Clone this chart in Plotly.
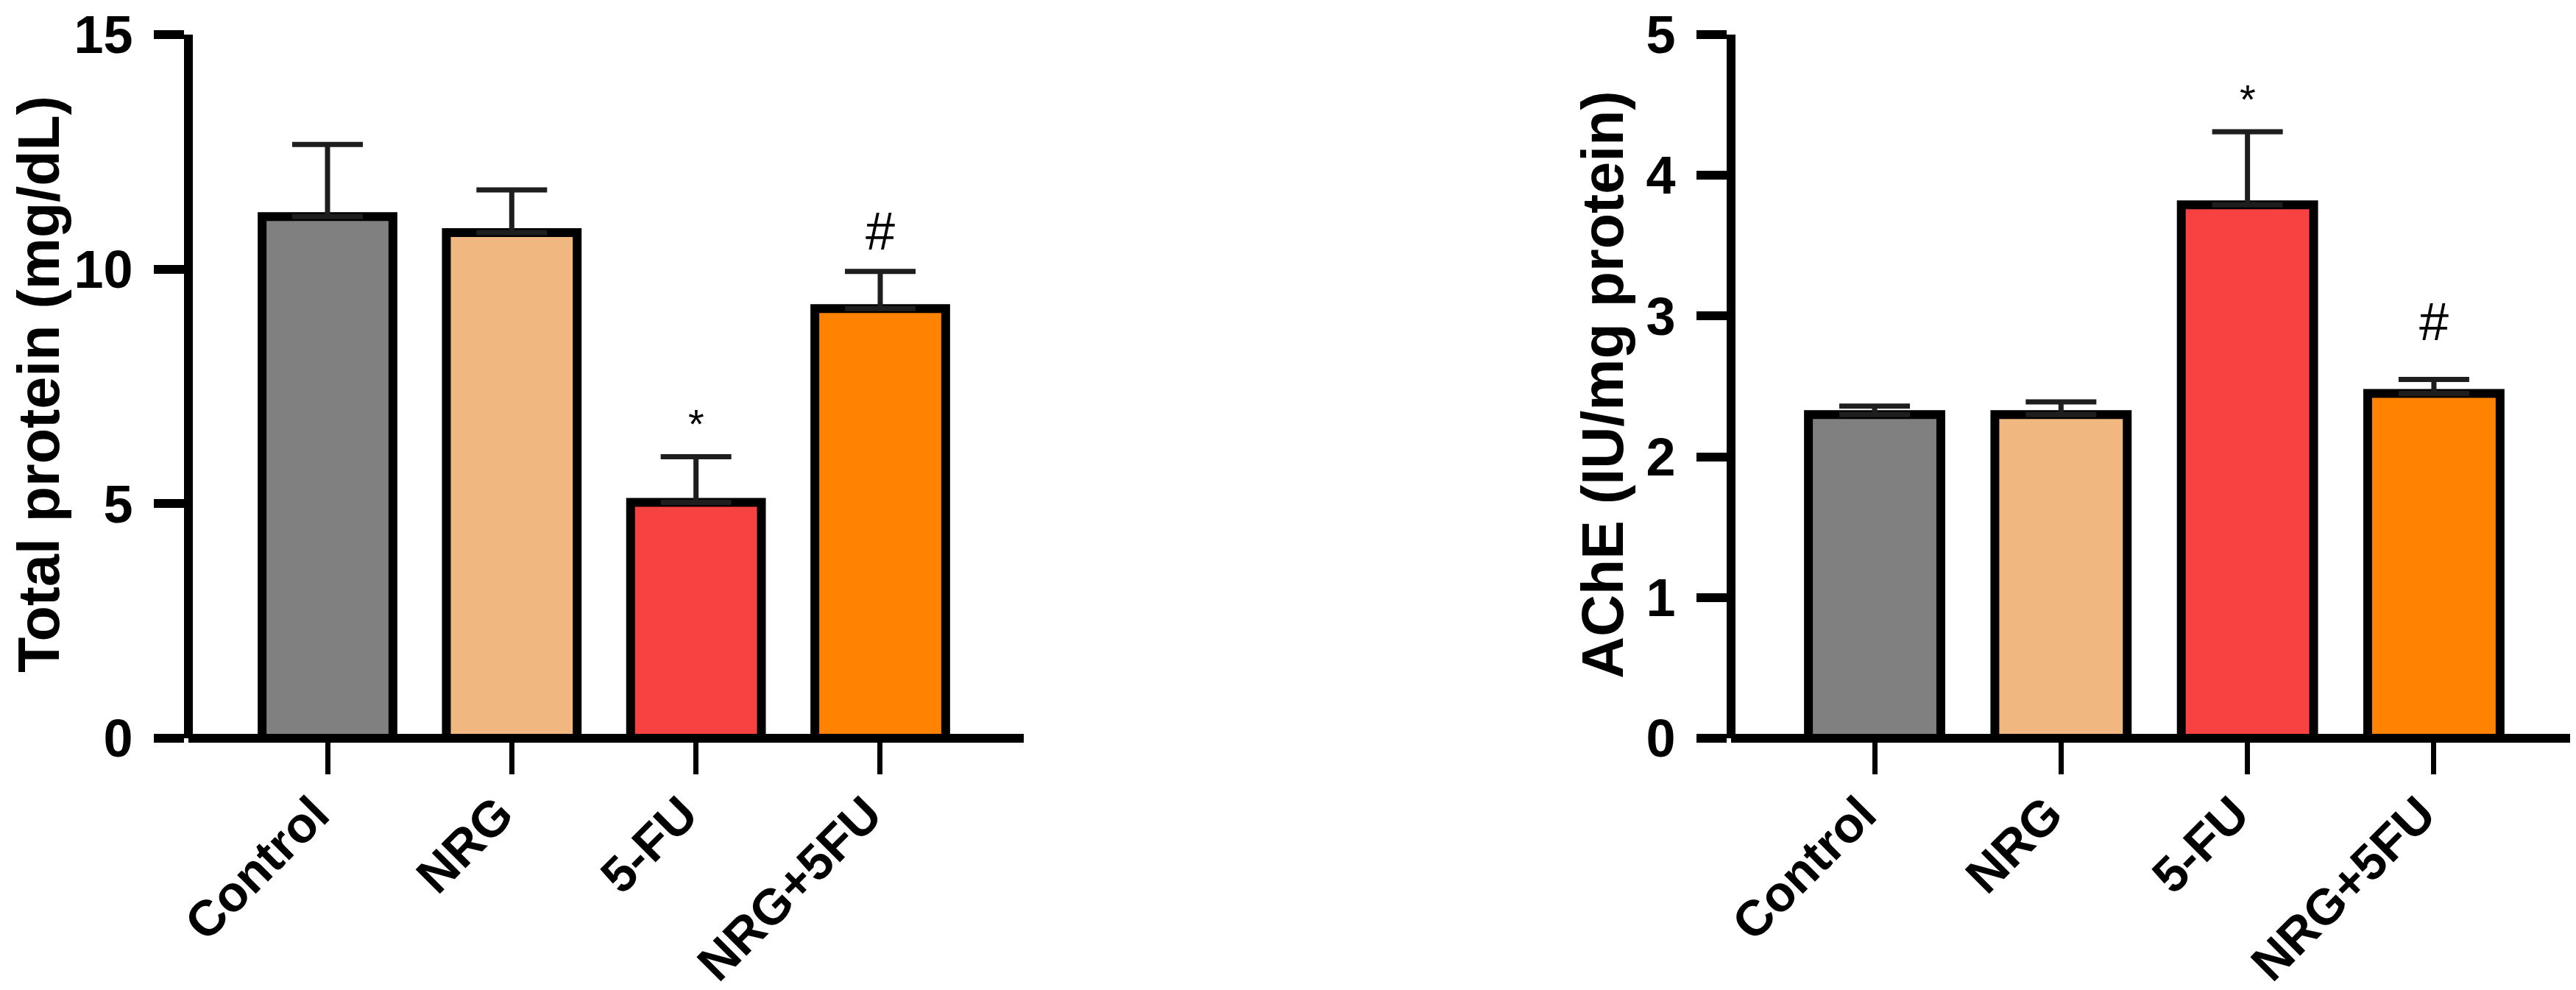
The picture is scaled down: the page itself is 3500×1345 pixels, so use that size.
import plotly.graph_objects as go

groups = ["Control", "NRG", "5-FU", "NRG+5FU"]
bar_colors = ["#808080", "#F0B880", "#F84242", "#FF8200"]

protein_mean = [11.12, 10.78, 5.03, 9.16]
protein_sem = [1.54, 0.91, 0.97, 0.79]
protein_marks = ["", "", "*", "#"]

ache_mean = [2.30, 2.30, 3.79, 2.45]
ache_sem = [0.06, 0.09, 0.52, 0.10]
ache_marks = ["", "", "*", "#"]

W, H = 3500, 1345
FONT = "Liberation Sans, Arial, sans-serif"
Y_BOTTOM = 1 - 995 / H
Y_TOP = 1 - 39 / H


def bar_trace(means, sems, xa, ya):
    return go.Bar(
        x=groups, y=means, xaxis=xa, yaxis=ya, width=0.71,
        marker={"color": bar_colors, "line": {"color": "black", "width": 12}},
        error_y={"type": "data", "array": sems, "arrayminus": [0] * len(sems), "symmetric": False,
                 "thickness": 7, "width": 48, "color": "#1e1e1e"},
        showlegend=False, hoverinfo="x+y",
    )


def x_axis(domain, rng):
    return {
        "domain": domain, "anchor": "free", "position": Y_BOTTOM, "range": rng, "automargin": False,
        "showline": True, "linewidth": 12, "linecolor": "black",
        "ticks": "outside", "ticklen": 43, "tickwidth": 7, "tickcolor": "black",
        "tickangle": -45, "ticklabelstandoff": -13, "ticklabelshift": -18, "ticklabeloverflow": "allow",
        "tickfont": {"family": FONT, "size": 68, "color": "black", "weight": "bold"},
        "showgrid": False, "zeroline": False,
    }


def y_axis(pos, rng, dtick):
    return {
        "domain": [Y_BOTTOM, Y_TOP], "anchor": "free", "position": pos, "range": rng, "dtick": dtick,
        "automargin": False, "ticklabeloverflow": "allow", "ticklabelstandoff": 14,
        "showline": True, "linewidth": 12, "linecolor": "black",
        "ticks": "outside", "ticklen": 41, "tickwidth": 12, "tickcolor": "black",
        "tickfont": {"family": FONT, "size": 72, "color": "black", "weight": "bold"},
        "showgrid": False, "zeroline": False,
    }


fig = go.Figure()
fig.add_trace(bar_trace(protein_mean, protein_sem, "x", "y"))
fig.add_trace(bar_trace(ache_mean, ache_sem, "x2", "y2"))

annotations = []
for means, sems, marks, xa, ya, shifts in [(protein_mean, protein_sem, protein_marks, "x", "y", {"*": 45, "#": 55}),
                                           (ache_mean, ache_sem, ache_marks, "x2", "y2", {"*": 44, "#": 78})]:
    for g, m, s, mk in zip(groups, means, sems, marks):
        if not mk:
            continue
        annotations.append({
            "x": g, "y": m + s, "xref": xa, "yref": ya, "text": mk, "showarrow": False,
            "yanchor": "middle", "yshift": shifts[mk],
            "font": {"family": FONT, "size": 56 if mk == "*" else 72, "color": "black"},
        })

annotations.append({
    "x": 44 / W, "y": 1 - 514 / H, "xref": "paper", "yref": "paper", "text": "Total protein (mg/dL)",
    "textangle": -90, "showarrow": False, "xanchor": "center", "yanchor": "middle",
    "font": {"family": FONT, "size": 79, "color": "black", "weight": "bold"},
})
annotations.append({
    "x": 2169 / W, "y": 1 - 515 / H, "xref": "paper", "yref": "paper", "text": "AChE (IU/mg protein)",
    "textangle": -90, "showarrow": False, "xanchor": "center", "yanchor": "middle",
    "font": {"family": FONT, "size": 79, "color": "black", "weight": "bold"},
})

fig.update_layout(
    width=W, height=H, margin={"l": 0, "r": 0, "t": 0, "b": 0, "autoexpand": False},
    paper_bgcolor="white", plot_bgcolor="white",
    xaxis=x_axis([248 / W, 1383 / W], [-0.755, 3.779]),
    yaxis=y_axis(248 / W, [0, 15], 5),
    xaxis2=x_axis([2344 / W, 3497 / W], [-0.770, 3.782]),
    yaxis2=y_axis(2344 / W, [0, 5], 1),
    annotations=annotations,
)

fig.write_html("out.html")
